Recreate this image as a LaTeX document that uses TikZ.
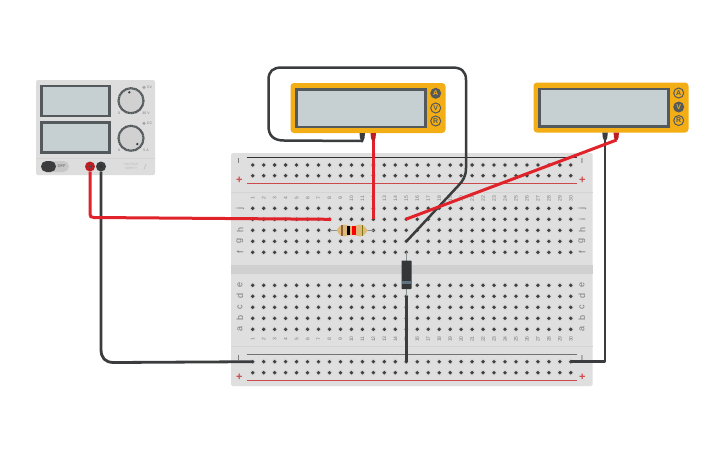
\documentclass[tikz,border=0pt]{standalone}
\usepackage{fontspec}
\setmainfont{Liberation Sans}
\definecolor{boardc}{HTML}{DFDFDF}
\definecolor{groovec}{HTML}{D0D0D0}
\definecolor{sepc}{HTML}{D4D4D4}
\definecolor{psuc}{HTML}{DDDDDD}
\definecolor{screenc}{HTML}{C6D0D2}
\definecolor{framec}{HTML}{545A5C}
\definecolor{amber}{HTML}{F4AE15}
\definecolor{redw}{HTML}{E0222A}
\definecolor{blackw}{HTML}{3A3C3E}
\definecolor{railr}{HTML}{CC4A4C}
\definecolor{legc}{HTML}{8A8F90}
\definecolor{tan}{HTML}{DDB97A}
\definecolor{labc}{HTML}{7A7A7A}
\definecolor{stripec}{HTML}{5F7480}
\tikzset{
  x=1pt,y=-1pt,
  lcd/.style={draw=framec,line width=2.4pt,fill=screenc},
  meterbody/.style={fill=amber,rounded corners=3.5pt},
  mbtn/.style={circle,draw=framec,line width=1pt,minimum size=10pt,inner sep=0pt,font=\fontsize{7}{7}\selectfont\bfseries,text=framec},
  mbtnon/.style={circle,fill=framec,minimum size=11pt,inner sep=0pt,font=\fontsize{7}{7}\selectfont\bfseries,text=amber},
  redwire/.style={draw=redw,line width=3pt},
  blackwire/.style={draw=blackw,line width=2.8pt},
  lead/.style={draw=legc,line width=1.8pt},
  numlab/.style={font=\fontsize{5}{5}\selectfont,text=labc,rotate=90,inner sep=0pt},
  letlab/.style={font=\fontsize{9}{9}\selectfont,text=labc,rotate=90,inner sep=0pt},
  tiny/.style={font=\fontsize{3.5}{4}\selectfont,text=#1,inner sep=0pt},
  signm/.style={font=\fontsize{11}{11}\selectfont\bfseries,text=railr,inner sep=0pt},
  signk/.style={font=\fontsize{9}{9}\selectfont,text=blackw,inner sep=0pt,rotate=90},
}
\newcommand{\holes}[1]{%
  \foreach \i in {0,...,29}{
    \fill[fill=black!15] ({252.7+10.97*\i},#1) circle (3);
    \fill[fill=black!75] ({252.7+10.97*\i},#1) circle (1.9);
  }}
\newcommand{\knob}[3]{%
  \fill[fill=black!18] (#1,#2) circle (13);
  \draw[draw=framec,line width=2.2pt,dash pattern=on 1.4pt off 0.4pt] (#1,#2) circle (12.5);
  \fill[black!75] #3 circle (1.3);}
\begin{document}
\begin{tikzpicture}
\useasboundingbox (0,0) rectangle (725,453);
\fill[white] (0,0) rectangle (725,453);

% --- power supply
\fill[psuc,rounded corners=1.5pt] (36,80) rectangle (155,175);
\fill[black!17] (36,157.5) rectangle (155,158);
\draw[lcd] (41.5,86) rectangle (109.5,116);
\draw[lcd] (41.5,122.5) rectangle (109.5,152.5);
\knob{131}{100.7}{(129.3,92.3)}
\knob{131}{138.3}{(137.3,144)}
\node[tiny=labc] (p0a) at (119,113) {0};
\node[tiny=labc] (p30) at (146,113) {30 V};
\node[tiny=labc] (p0b) at (119,150.5) {0};
\node[tiny=labc] (p5) at (146,150.5) {5 A};
\fill[black!35] (144,87.3) circle (1.8);
\fill[black!35] (144,123.3) circle (1.8);
\node[tiny=labc] (pcv) at (149.5,87.3) {CV};
\node[tiny=labc] (pcc) at (149.5,123.3) {CC};
\fill[black!22,rounded corners=5.5pt] (41,161) rectangle (69,172);
\fill[blackw,rounded corners=5.5pt] (41,161) rectangle (56,172);
\node[font=\fontsize{4}{4}\selectfont\bfseries,text=labc,inner sep=0pt] (poff) at (61.5,166.5) {OFF};
\node[align=center,font=\fontsize{3.2}{3.6}\selectfont,text=black!28,inner sep=0pt] (pvs) at (131,166.5) {VOLTAGE\\SUPPLY};
\node[font=\fontsize{7}{7}\selectfont\itshape\bfseries,text=black!25,inner sep=0pt] (pbolt) at (145,167) {/};
\node[circle,fill=redw!85!black,minimum size=10pt,inner sep=0pt] (pred) at (90,166.5) {};
\node[circle,fill=blackw,minimum size=10pt,inner sep=0pt] (pblk) at (101,166.5) {};
\fill[black!70] (90,166.5) circle (1.6);
\fill[black!80] (101,166.5) circle (1.6);

% --- breadboard
\fill[boardc,rounded corners=1.5pt] (231,153) rectangle (592.5,386);
\fill[groovec] (231,265) rectangle (592.5,274);
\draw[sepc,line width=.8pt] (231,192) -- (592.5,192);
\draw[sepc,line width=.8pt] (231,346.7) -- (592.5,346.7);
\draw[black!80,line width=.9pt] (246.7,157.7) -- (576.7,157.7);
\draw[railr,line width=1.2pt] (246.7,183.7) -- (576.7,183.7);
\draw[black!55,line width=1.2pt] (246.7,354.7) -- (576.7,354.7);
\draw[railr,line width=1.2pt] (246.7,380.7) -- (576.7,380.7);
\foreach \y in {165,175.7,208.3,219.3,230.3,241.3,252.3,285.3,296.3,307.3,318.3,329.3,361.7,372.7}{\holes{\y}}
\foreach \i in {1,...,30}{
  \node[numlab] (nt\i) at ({252.7+10.97*(\i-1)},198.5) {\i};
  \node[numlab] (nb\i) at ({252.7+10.97*(\i-1)},339) {\i};
}
\foreach \l/\y in {j/208.3,i/219.3,h/230.3,g/241.3,f/252.3,e/285.3,d/296.3,c/307.3,b/318.3,a/329.3}{
  \node[letlab] (ll\l) at (240,\y) {\l};
  \node[letlab] (lr\l) at (582,\y) {\l};
}
\node[signk] (m1) at (239.5,161) {--};
\node[signk] (m2) at (583,161) {--};
\node[signk] (m3) at (239.5,358) {--};
\node[signk] (m4) at (583,358) {--};
\node[signm] (s1) at (239.3,180.5) {+};
\node[signm] (s2) at (582.3,180.5) {+};
\node[signm] (s3) at (239.3,377) {+};
\node[signm] (s4) at (582.3,377) {+};

% --- multimeters
\fill[meterbody] (290.5,83) rectangle (445.5,133);
\draw[lcd] (296.5,89.3) rectangle (425.5,127);
\node[mbtnon] (a1) at (435.7,93.3) {A};
\node[mbtn] (v1) at (435.7,108) {V};
\node[mbtn] (r1) at (435.7,121) {R};
\fill[meterbody] (533.5,82.5) rectangle (688.5,132.5);
\draw[lcd] (539.5,88.8) rectangle (668.5,126.5);
\node[mbtn] (a2) at (678.7,93) {A};
\node[mbtnon] (v2) at (678.7,107) {V};
\node[mbtn] (r2) at (678.7,120.5) {R};

% --- named wire ends
\coordinate (hR) at (331,219.3);
\coordinate (hM) at (373.3,219.3);
\coordinate (hD) at (406.5,241.3);
\coordinate (hS) at (405.7,219.3);
\coordinate (hN) at (252.7,361.7);
\coordinate (hO) at (571,361.7);
\coordinate (hC) at (406.5,361.7);
\coordinate (dA) at (406.5,252.3);
\coordinate (dB) at (406.5,296.3);
\coordinate (t1b) at (362.3,140);
\coordinate (t1r) at (373.3,140);
\coordinate (t2b) at (605,139);
\coordinate (t2r) at (616.5,140);

% --- black wires
\draw[blackwire] (pblk.south) -- (101,349) .. controls (101,358) and (105,362.5) .. (114,362.5) -- (hN);
\draw[blackwire,line join=round] (t2b) -- (605,361.7) -- (hO);
\draw[blackwire] (dB) -- (hC);
\draw[blackwire,line width=2.5pt] (t1b) -- (362,141) -- (284,140.5) .. controls (273,140.5) and (268.5,135) .. (268.5,126) -- (268.5,80) .. controls (268.5,71) and (273,67.5) .. (282,67.5) -- (452,67.5) .. controls (461,67.5) and (466,71) .. (466,80) -- (466,168) .. controls (466,176) and (463,181) .. (458,186) -- (hD);

% --- red wires
\draw[redwire] (pred.south) -- (90,214) .. controls (90,216.5) and (91,217.5) .. (94,217.5) -- (hR);
\draw[redwire] (t1r) -- (hM);
\draw[redwire] (t2r) -- (hS);

% --- meter probes
\fill[blackw] (359.5,133) -- (365,133) -- (364.5,138) -- (363.5,140.5) -- (361,140.5) -- (360,138) -- cycle;
\fill[redw!85!black] (370.5,133) -- (376,133) -- (375.5,138) -- (374.5,140.5) -- (372,140.5) -- (371,138) -- cycle;
\fill[blackw] (602.3,132.5) -- (607.8,132.5) -- (607.3,137.5) -- (606.3,140) -- (603.8,140) -- (602.8,137.5) -- cycle;
\fill[redw!85!black] (613.5,132.5) -- (619,132.5) -- (618.5,137.5) -- (617.5,140) -- (615,140) -- (614,137.5) -- cycle;

% --- resistor
\coordinate (rL) at (329.5,230.5);
\coordinate (rR) at (373.5,230.5);
\draw[lead] (rL) -- (rR);
\fill[tan] (336.5,230.5) .. controls (339,226.5) and (341,224.5) .. (344,224.5) .. controls (347,224.5) and (347,226) .. (350,226) -- (354,226) .. controls (357,226) and (357,224.5) .. (360,224.5) .. controls (363,224.5) and (365,226.5) .. (367.7,230.5) .. controls (365,234.5) and (363,236.5) .. (360,236.5) .. controls (357,236.5) and (357,235) .. (354,235) -- (350,235) .. controls (347,235) and (347,236.5) .. (344,236.5) .. controls (341,236.5) and (339,234.5) .. (336.5,230.5) -- cycle;
\fill[brown!75!black] (340.5,224.7) rectangle (343,236.3);
\fill[black] (347,226) rectangle (350,235);
\fill[red] (352,226) rectangle (355.5,235);
\fill[olive!85!black] (361.5,224.7) rectangle (362.8,236.3);

% --- diode
\draw[lead] (dA) -- (dB);
\fill[blackw!90!black,rounded corners=.6pt] (401.5,260.5) rectangle (411.5,289);
\fill[stripec] (401.5,281) rectangle (411.5,283.5);
\end{tikzpicture}
\end{document}
